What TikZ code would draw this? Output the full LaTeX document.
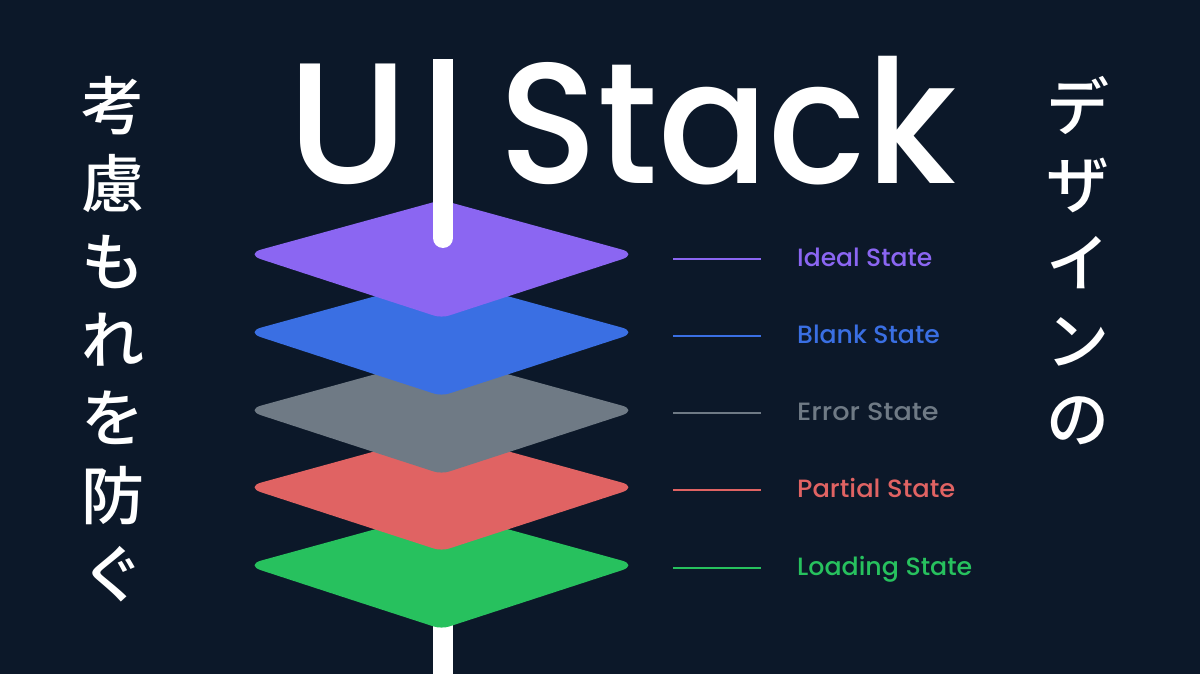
\documentclass[tikz,border=0pt]{standalone}
\usepackage{fontspec}
\setmainfont{Poppins}
\newfontfamily\titlefont{Poppins}[UprightFont=* Medium]
\newfontfamily\labelfont{Poppins}[UprightFont=* Medium]
\newfontfamily\cjk{Noto Sans CJK JP}[UprightFont=* Medium]
\definecolor{bg}{HTML}{0C1829}
\definecolor{cideal}{HTML}{8B66F2}
\definecolor{cblank}{HTML}{3A6FE3}
\definecolor{cerror}{HTML}{6F7A85}
\definecolor{cpartial}{HTML}{E06363}
\definecolor{cload}{HTML}{27C15E}
\tikzset{
  px/.style={x=1pt,y=-1pt},
  layer/.style={fill=#1},
  tipround/.style={rounded corners=17pt},
  midround/.style={rounded corners=8pt},
  stem/.style={line width=20pt,white},
  legendline/.style={draw=#1,line width=1.8pt},
  legendtext/.style={anchor=base west,inner sep=0pt,text=#1,font=\labelfont\fontsize{25}{25}\selectfont},
  titletext/.style={anchor=base west,inner sep=0pt,text=white,font=\titlefont\fontsize{172}{172}\selectfont},
  vtext/.style={inner sep=0pt,text=white,align=center,anchor=north,font=\cjk\fontsize{63}{78}\selectfont},
}
\begin{document}
\begin{tikzpicture}[px]
\useasboundingbox (0,0) rectangle (1200,674);
\fill[bg] (0,0) rectangle (1200,674);
\coordinate (stemtop) at (443,59);
\coordinate (stemend) at (443,238);
\coordinate (tailtop) at (443,600);
\coordinate (tailend) at (443,674);
\draw[stem] (tailtop) -- (tailend);
\foreach \yy/\cc in {565/cload,487/cpartial,410/cerror,332/cblank,254/cideal}{
  \fill[layer=\cc] (343,\yy+32) [tipround] -- (245,\yy) [midround] -- (441.5,\yy-54) [tipround] -- (638,\yy) [midround] -- (441.5,\yy+64) -- cycle;
}
\node[titletext] (ui) at (287.5,184) {\scalebox{1.02}[1]{U}};
\node[titletext] (stack) at (499.5,184) {\scalebox{.945}[1]{Stack}};
\draw[stem,line cap=round] (stemend) -- (443,70);
\draw[stem] (443,80) -- (stemtop);
\foreach \yy/\ty/\cc/\tt/\nn/\sx in {259/266/cideal/Ideal State/a/1.0,336/343/cblank/Blank State/b/1.005,413/420/cerror/Error State/c/1.085,490/497/cpartial/Partial State/d/1.03,568/575/cload/Loading State/e/1.01}{
  \coordinate (l\nn a) at (673,\yy);
  \coordinate (l\nn b) at (761,\yy);
  \draw[legendline=\cc] (l\nn a) -- (l\nn b);
  \node[legendtext=\cc] (t\nn) at (797,\ty) {\scalebox{\sx}[1]{\tt}};
}
\node[vtext] (left) at (113,76.5) {考\\慮\\も\\れ\\を\\防\\ぐ};
\node[vtext] (right) at (1078,76.5) {デ\\ザ\\イ\\ン\\の};
\end{tikzpicture}
\end{document}
